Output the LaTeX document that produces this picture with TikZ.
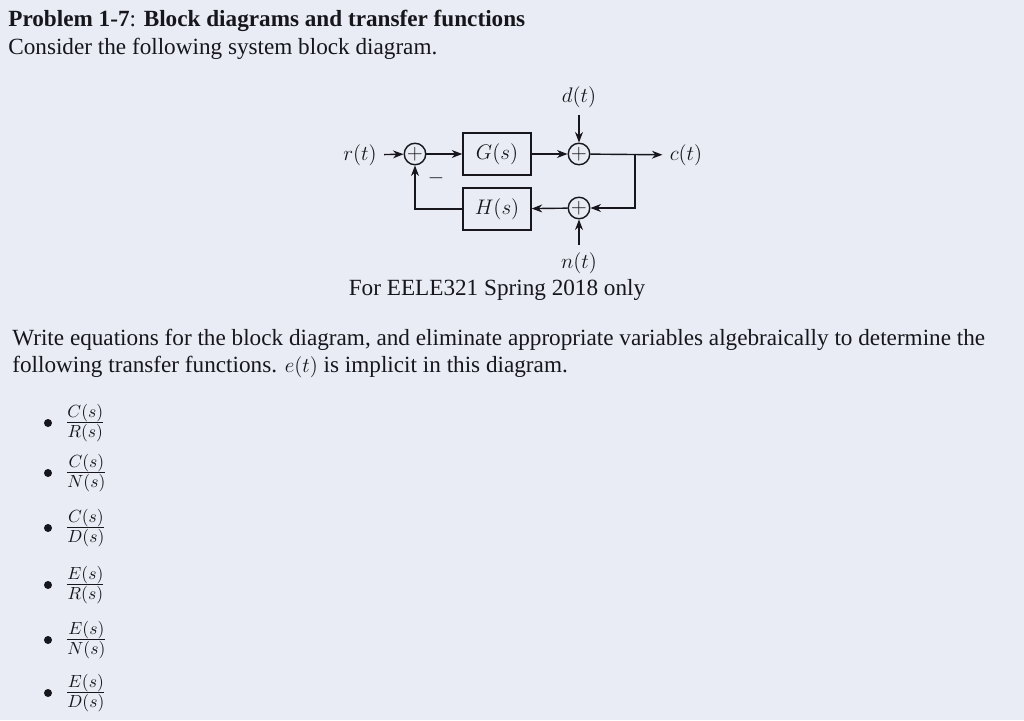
\documentclass[tikz,border=0pt,12pt]{standalone}
\usepackage{fontspec}
\setmainfont{Liberation Serif}
\usetikzlibrary{arrows.meta}

\definecolor{paper}{RGB}{233,236,244}
\definecolor{ink}{RGB}{22,22,28}

\tikzset{
  block/.style={draw, thick, minimum width=1.36cm, minimum height=0.84cm, inner sep=2pt},
  sumnode/.style={draw, thick, circle, minimum size=0.43cm, inner sep=0pt},
  arr/.style={thick, -{Stealth[length=6pt,width=4.5pt]}},
  bulletdot/.style={circle, fill=ink, minimum size=0.16cm, inner sep=0pt},
  line/.style={anchor=base west, inner sep=0pt, font=\fontsize{13.2}{16}\selectfont},
  label/.style={font=\fontsize{12.6}{15}\selectfont}
}

\begin{document}
\begin{tikzpicture}[x=0.02cm, y=-0.02cm, color=ink]
    % page of the scan, pixel coordinates
    \fill[paper] (0,0) rectangle (1024,720);
    \useasboundingbox (0,0) rectangle (1024,720);

    % Heading
    \node[line] (title) at (8,27) {\textbf{Problem 1-7}: \textbf{Block diagrams and transfer functions}};
    \node[line] (intro) at (8,54) {Consider the following system block diagram.};

    % Forward path
    \node[label] (r) at (360,155) {$r(t)$};
    \node[sumnode] (s1) at (415,154) {$+$};
    \node[block, label] (G) at (497,154) {$G(s)$};
    \node[sumnode] (s2) at (579,154) {$+$};
    \node[label] (c) at (686,155) {$c(t)$};
    \node[label] (d) at (579,97) {$d(t)$};

    % Feedback path
    \coordinate (br) at (635,154);
    \node[sumnode] (s3) at (579,208) {$+$};
    \node[block, label] (H) at (497,209) {$H(s)$};
    \node[label] (n) at (579,263) {$n(t)$};
    \node[label] (minus) at (436,178) {$-$};

    % Connectors
    \draw[arr] (r) -- (s1);
    \draw[arr] (s1) -- (G);
    \draw[arr] (G) -- (s2);
    \draw[arr] (s2) -- (c);
    \draw[arr] (d) -- (s2);
    \draw[arr] (br) |- (s3);
    \draw[arr] (s3) -- (H);
    \draw[arr] (n) -- (s3);
    \draw[arr] (H.west) -| (s1.south);

    \node[line, anchor=base] (only) at (497,295) {For EELE321 Spring 2018 only};

    % Task
    \node[line] (task1) at (12,345) {Write equations for the block diagram, and eliminate appropriate variables algebraically to determine the};
    \node[line] (task2) at (12,372) {following transfer functions. $e(t)$ is implicit in this diagram.};

    % List of transfer functions
    \foreach \i/\y/\num/\den in {1/423/C/R, 2/473/C/N, 3/528/C/D, 4/585/E/R, 5/640/E/N, 6/693/E/D} {
        \node[bulletdot] (b\i) at (48,\y) {};
        \node[anchor=west, font=\large, inner sep=0pt] (f\i) at (65,\y) {$\frac{\num(s)}{\den(s)}$};
    }
\end{tikzpicture}
\end{document}
